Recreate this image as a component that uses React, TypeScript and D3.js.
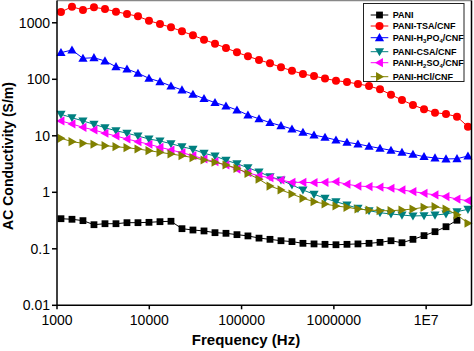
import React from "react";
import * as d3 from "d3";

const freq = [1104,1453,1911,2515,3311,4356,5731,7541,9922,13056,17180,22600,29720,39170,51520,67760,89130,117200,154500,203200,267300,351600,462400,609500,801700,1054000,1387000,1824000,2404000,3162000,4159000,5470000,7194000,9484000,12470000,16410000,21580000,28380000];

const pani = [0.341,0.333,0.315,0.267,0.278,0.278,0.290,0.290,0.294,0.302,0.307,0.227,0.215,0.207,0.193,0.188,0.178,0.169,0.155,0.147,0.139,0.134,0.125,0.122,0.120,0.118,0.120,0.122,0.125,0.130,0.139,0.128,0.147,0.171,0.201,0.246,0.32];
const tsa = [1553,1928,1686,1880,1755,1572,1431,1303,1089,952,832,707,601,502,427,358,300,255,220,192,163,142,124,114,103,94.5,89.6,82.6,76.1,66.5,53.4,43.0,35.1,29.5,25.7,24.3,21.8,14.5];
const h3po4 = [296,330,235,241,211,167,152,128,104,90.7,76.1,64.7,54.3,45.4,38.6,33.7,28.6,23.3,20,17.1,15.1,13.2,11.5,10.3,9.4,8.43,7.67,7.16,6.52,6.01,5.54,5.10,4.71,4.27,4.05,3.89,3.93,4.39];
const csa = [24.0,20.9,18.3,16.0,13.9,12.3,11.1,9.92,8.78,8.09,7.25,6.41,5.77,4.90,4.39,3.68,3.21,2.72,2.3,1.89,1.65,1.35,1.10,0.922,0.783,0.682,0.596,0.521,0.472,0.435,0.413,0.396,0.381,0.386,0.396,0.413,0.454,0.500];
const h2so4 = [18.3,16.2,14.1,12.7,11.1,9.92,8.78,7.87,7.08,6.26,5.61,5.02,4.45,3.88,3.48,3.04,2.58,2.22,1.95,1.81,1.65,1.50,1.50,1.48,1.50,1.54,1.39,1.29,1.26,1.23,1.18,1.10,1.03,0.96,0.90,0.84,0.76,0.71];
const hcl = [9.03,7.87,7.36,7.08,6.68,6.41,6.15,5.84,5.45,5.10,4.76,4.45,4.10,3.73,3.40,3.04,2.66,2.15,1.7,1.29,1.10,0.933,0.783,0.682,0.621,0.572,0.543,0.506,0.486,0.472,0.472,0.486,0.506,0.543,0.556,0.506,0.40,0.283];

const xTicks = [1000, 10000, 100000, 1000000, 10000000];
const xTickLabels = ["1000", "10000", "100000", "1000000", "1E7"];
const yTicks = [0.01, 0.1, 1, 10, 100, 1000];
const yTickLabels = ["0.01", "0.1", "1", "10", "100", "1000"];

type Shape = "square" | "circle" | "up" | "down" | "left" | "right";
const series: { name: string; sub?: [string, string, string, string, string]; values: number[]; color: string; shape: Shape }[] = [
  { name: "PANI", values: pani, color: "#000000", shape: "square" },
  { name: "PANI-TSA/CNF", values: tsa, color: "#FF0000", shape: "circle" },
  { name: "", sub: ["PANI-H", "3", "PO", "4", "/CNF"], values: h3po4, color: "#0000FF", shape: "up" },
  { name: "PANI-CSA/CNF", values: csa, color: "#008080", shape: "down" },
  { name: "", sub: ["PANI-H", "2", "SO", "4", "/CNF"], values: h2so4, color: "#FF00FF", shape: "left" },
  { name: "PANI-HCl/CNF", values: hcl, color: "#808000", shape: "right" },
];

const legendY = [15, 26, 37.7, 51.7, 62.7, 76.7];

function markerPath(shape: Shape, x: number, y: number): string {
  const s = 3.4;
  const t = 4.6;
  switch (shape) {
    case "square":
      return `M${x - s},${y - s}h${2 * s}v${2 * s}h${-2 * s}Z`;
    case "circle":
      return `M${x + 4},${y}A4,4 0 1,1 ${x - 4},${y}A4,4 0 1,1 ${x + 4},${y}Z`;
    case "up":
      return `M${x},${y - t}L${x + t},${y + t * 0.75}L${x - t},${y + t * 0.75}Z`;
    case "down":
      return `M${x},${y + t}L${x + t},${y - t * 0.75}L${x - t},${y - t * 0.75}Z`;
    case "left":
      return `M${x - t},${y}L${x + t * 0.75},${y - t}L${x + t * 0.75},${y + t}Z`;
    case "right":
      return `M${x + t},${y}L${x - t * 0.75},${y - t}L${x - t * 0.75},${y + t}Z`;
  }
}

export default function App() {
  const W = 474, H = 351;
  const left = 57, right = 471.5, top = 0.5, bottom = 305.3;
  const x = d3.scaleLog().domain([1000, 3.1e7]).range([left, right]);
  const y = d3.scaleLog().domain([0.01, 2480]).range([bottom, top]);
  const line = d3.line<[number, number]>().x((d) => x(d[0])).y((d) => y(d[1]));
  const font = "'Liberation Sans', Arial, sans-serif";

  return (
    <svg width={W} height={H} style={{ position: "absolute", left: 0, top: 0, background: "#fff" }} fontFamily={font}>
      <rect x={0} y={0} width={W} height={H} fill="#fff" />
      {series.map((s, si) => {
        const pts: [number, number][] = s.values.map((v, i) => [freq[i], v]);
        return (
          <g key={si}>
            <path d={line(pts) || ""} fill="none" stroke={s.color} strokeWidth={1} />
            {pts.map((p, i) => (
              <path key={i} d={markerPath(s.shape, x(p[0]), y(p[1]))} fill={s.color} />
            ))}
          </g>
        );
      })}
      {/* frame */}
      <line x1={left} y1={top} x2={right} y2={top} stroke="#888" strokeWidth={1.5} />
      <line x1={left} y1={bottom} x2={right} y2={bottom} stroke="#000" strokeWidth={1.5} />
      <line x1={left} y1={top} x2={left} y2={bottom} stroke="#000" strokeWidth={1.5} />
      <line x1={right} y1={top} x2={right} y2={bottom} stroke="#000" strokeWidth={1.5} />
      {/* x ticks */}
      {xTicks.map((t, i) => (
        <g key={i}>
          <line x1={x(t)} x2={x(t)} y1={bottom} y2={bottom + 4} stroke="#000" strokeWidth={1.5} />
          <text x={x(t)} y={325} fontSize={14} textAnchor="middle" fill="#000">{xTickLabels[i]}</text>
        </g>
      ))}
      {/* y ticks */}
      {yTicks.map((t, i) => (
        <g key={i}>
          <line x1={left - 5} x2={left} y1={y(t)} y2={y(t)} stroke="#000" strokeWidth={1.5} />
          <text x={50} y={y(t) + 5} fontSize={14} textAnchor="end" fill="#000">{yTickLabels[i]}</text>
        </g>
      ))}
      <text x={246} y={345} fontSize={15} fontWeight="bold" textAnchor="middle" fill="#000">Frequency (Hz)</text>
      <text transform="translate(13,156) rotate(-90)" fontSize={14} fontWeight="bold" textAnchor="middle" fill="#000">AC Conductivity (S/m)</text>
      {/* legend */}
      <rect x={363.5} y={3.5} width={100.5} height={78} fill="#fff" stroke="#222" strokeWidth={1} />
      {series.map((s, si) => {
        const ly = legendY[si];
        return (
          <g key={si}>
            <line x1={370.7} x2={388.3} y1={ly} y2={ly} stroke={s.color} strokeWidth={1} />
            <path d={markerPath(s.shape, 379.5, ly)} fill={s.color} />
            <text x={392.7} y={ly + 3.2} fontSize={9} fontWeight="bold" fill="#000">
              {s.sub ? (
                <>
                  {s.sub[0]}
                  <tspan fontSize={6} dy={2}>{s.sub[1]}</tspan>
                  <tspan dy={-2}>{s.sub[2]}</tspan>
                  <tspan fontSize={6} dy={2}>{s.sub[3]}</tspan>
                  <tspan dy={-2}>{s.sub[4]}</tspan>
                </>
              ) : (
                s.name
              )}
            </text>
          </g>
        );
      })}
    </svg>
  );
}
